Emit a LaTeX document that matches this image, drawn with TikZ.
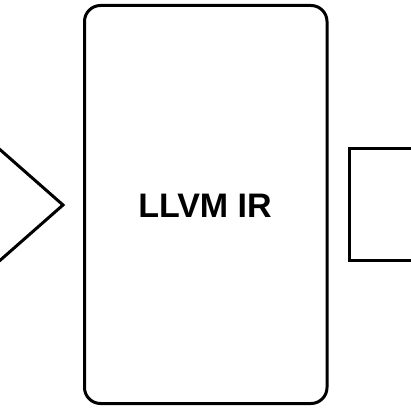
\documentclass[tikz,border=0pt]{standalone}
\usepackage{fontspec}
\setmainfont{Liberation Sans}
\begin{document}
\begin{tikzpicture}[x=1pt,y=-1pt,line width=3pt,
  shapeline/.style={draw=black,line width=3pt,line join=miter},
  lbl/.style={font=\bfseries\fontsize{34}{40}\selectfont}]
\useasboundingbox (0,0) rectangle (411,411);
\begin{scope}
\clip (0,0) rectangle (411,411);
% left chevron
\draw[shapeline] (-20,132) -- (63,205) -- (-20,278);
% central block
\draw[shapeline,rounded corners=16pt] (84.5,5.5) rectangle (327,403.5);
% right block
\draw[shapeline] (430,149) -- (349.5,149) -- (349.5,260) -- (430,260);
\end{scope}
\node[lbl] (ir) at (205,205.5) {LLVM IR};
\end{tikzpicture}
\end{document}
